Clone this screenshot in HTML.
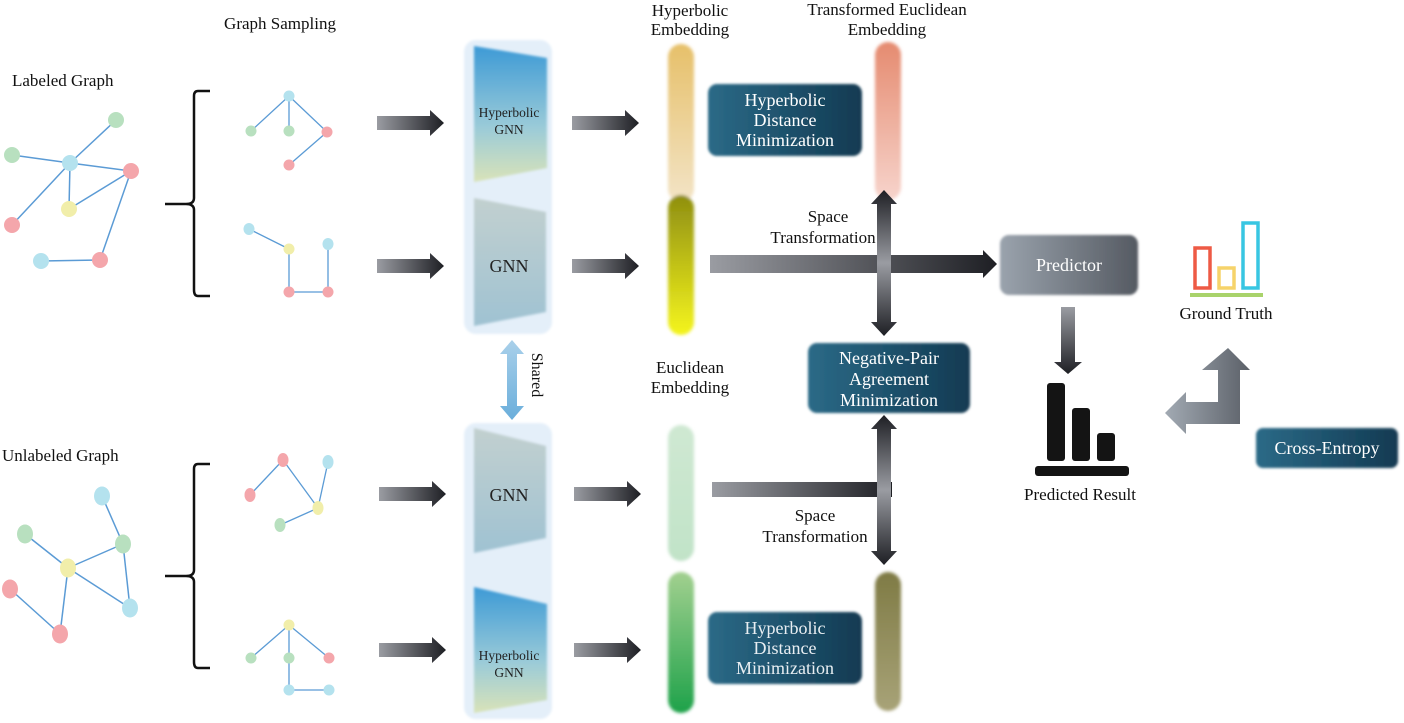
<!DOCTYPE html>
<html><head><meta charset="utf-8"><style>
html,body{margin:0;padding:0;background:#fff}
svg{display:block;font-family:"Liberation Serif",serif}
</style></head><body>
<svg width="1404" height="723" viewBox="0 0 1404 723" xmlns="http://www.w3.org/2000/svg">
<defs>
<linearGradient id="ar" x1="0" x2="1" y1="0" y2="0"><stop offset="0" stop-color="#9a9ca2"/><stop offset="1" stop-color="#1e1f24"/></linearGradient>
<linearGradient id="arv" x1="0" x2="0" y1="0" y2="1"><stop offset="0" stop-color="#1e1f24"/><stop offset="0.5" stop-color="#9a9ca2"/><stop offset="1" stop-color="#1e1f24"/></linearGradient>
<linearGradient id="ard" x1="0" x2="0" y1="0" y2="1"><stop offset="0" stop-color="#9a9ca2"/><stop offset="1" stop-color="#1e1f24"/></linearGradient>
<linearGradient id="hyp" x1="0" x2="0" y1="0" y2="1"><stop offset="0" stop-color="#3d9ad6"/><stop offset="0.6" stop-color="#9bcbd8"/><stop offset="1" stop-color="#d9e3b8"/></linearGradient>
<linearGradient id="gnn" x1="0" x2="0" y1="0" y2="1"><stop offset="0" stop-color="#c2d0cf"/><stop offset="1" stop-color="#9fc2d2"/></linearGradient>
<linearGradient id="box" x1="0" x2="1"><stop offset="0" stop-color="#2b6a87"/><stop offset="1" stop-color="#123a52"/></linearGradient>
<linearGradient id="pred" x1="0" x2="1"><stop offset="0" stop-color="#9aa3ad"/><stop offset="1" stop-color="#555a62"/></linearGradient>
<linearGradient id="lar" x1="0" x2="1"><stop offset="0" stop-color="#a2aab3"/><stop offset="1" stop-color="#5b6068"/></linearGradient>
<linearGradient id="p1" x1="0" x2="0" y1="0" y2="1"><stop offset="0" stop-color="#e6c06a"/><stop offset="1" stop-color="#f3e4c6"/></linearGradient>
<linearGradient id="p2" x1="0" x2="0" y1="0" y2="1"><stop offset="0" stop-color="#8f8f10"/><stop offset="1" stop-color="#f5f51e"/></linearGradient>
<linearGradient id="p3" x1="0" x2="0" y1="0" y2="1"><stop offset="0" stop-color="#cfe8d2"/><stop offset="1" stop-color="#c1e3c8"/></linearGradient>
<linearGradient id="p4" x1="0" x2="0" y1="0" y2="1"><stop offset="0" stop-color="#a2d08f"/><stop offset="1" stop-color="#1ea24a"/></linearGradient>
<linearGradient id="p5" x1="0" x2="0" y1="0" y2="1"><stop offset="0" stop-color="#e58b70"/><stop offset="1" stop-color="#f7d4cc"/></linearGradient>
<linearGradient id="p6" x1="0" x2="0" y1="0" y2="1"><stop offset="0" stop-color="#7f7b45"/><stop offset="1" stop-color="#a8a378"/></linearGradient>
<linearGradient id="sh" x1="0" x2="0" y1="0" y2="1"><stop offset="0" stop-color="#a9d0ea"/><stop offset="1" stop-color="#6aaedb"/></linearGradient>
<filter id="bl" x="-50%" y="-10%" width="200%" height="120%"><feGaussianBlur stdDeviation="1.6"/></filter>
<filter id="bl2" x="-10%" y="-10%" width="120%" height="120%"><feGaussianBlur stdDeviation="1.2"/></filter>
</defs>

<!-- titles -->
<g font-size="17" fill="#111">
<text x="280" y="29" text-anchor="middle">Graph Sampling</text>
<text x="12" y="86">Labeled Graph</text>
<text x="2" y="461">Unlabeled Graph</text>
<text x="690" y="16" text-anchor="middle">Hyperbolic</text>
<text x="690" y="35" text-anchor="middle">Embedding</text>
<text x="887" y="15" text-anchor="middle">Transformed Euclidean</text>
<text x="887" y="35" text-anchor="middle">Embedding</text>
<text x="828" y="222" text-anchor="middle">Space</text>
<text x="823" y="243" text-anchor="middle">Transformation</text>
<text x="815" y="521" text-anchor="middle">Space</text>
<text x="815" y="542" text-anchor="middle">Transformation</text>
<text x="690" y="373" text-anchor="middle">Euclidean</text>
<text x="690" y="393" text-anchor="middle">Embedding</text>
<text x="1080" y="500" text-anchor="middle">Predicted Result</text>
<text x="1226" y="319" text-anchor="middle">Ground Truth</text>
</g>

<!-- Labeled graph -->
<g stroke="#5b9bd5" stroke-width="1.5">
<line x1="70" y1="163" x2="116" y2="120"/><line x1="70" y1="163" x2="12" y2="155"/><line x1="70" y1="163" x2="131" y2="171"/>
<line x1="70" y1="163" x2="69" y2="209"/><line x1="70" y1="163" x2="12" y2="225"/><line x1="69" y1="209" x2="131" y2="171"/>
<line x1="131" y1="171" x2="100" y2="260"/><line x1="41" y1="261" x2="100" y2="260"/>
</g>
<g>
<circle cx="116" cy="120" r="8" fill="#b8e0bf"/><circle cx="12" cy="155" r="8" fill="#b8e0bf"/>
<circle cx="70" cy="163" r="8" fill="#b4e2ee"/><circle cx="131" cy="171" r="8" fill="#f4a6ab"/>
<circle cx="69" cy="209" r="8" fill="#f1eeaa"/><circle cx="12" cy="225" r="8" fill="#f4a6ab"/>
<circle cx="41" cy="261" r="8" fill="#b4e2ee"/><circle cx="100" cy="260" r="8" fill="#f4a6ab"/>
</g>
<!-- Unlabeled graph -->
<g stroke="#5b9bd5" stroke-width="1.5">
<line x1="102" y1="496" x2="123" y2="544"/><line x1="25" y1="534" x2="68" y2="568"/><line x1="68" y1="568" x2="123" y2="544"/>
<line x1="123" y1="544" x2="130" y2="608"/><line x1="68" y1="568" x2="130" y2="608"/><line x1="68" y1="568" x2="60" y2="634"/>
<line x1="10" y1="589" x2="60" y2="634"/>
</g>
<g>
<ellipse cx="102" cy="496" rx="8" ry="9.5" fill="#b4e2ee"/><ellipse cx="25" cy="534" rx="8" ry="9.5" fill="#b8e0bf"/>
<ellipse cx="123" cy="544" rx="8" ry="9.5" fill="#b8e0bf"/><ellipse cx="68" cy="568" rx="8" ry="9.5" fill="#f1eeaa"/>
<ellipse cx="10" cy="589" rx="8" ry="9.5" fill="#f4a6ab"/><ellipse cx="130" cy="608" rx="8" ry="9.5" fill="#b4e2ee"/>
<ellipse cx="60" cy="634" rx="8" ry="9.5" fill="#f4a6ab"/>
</g>

<!-- braces -->
<g fill="none" stroke="#111" stroke-width="2.5">
<path d="M210 91 L198 91 Q194 91 194 96 L194 198 Q194 204 186 204 L165 204 M186 204 Q194 204 194 210 L194 290 Q194 296 198 296 L210 296"/>
<path d="M210 464 L198 464 Q194 464 194 469 L194 570 Q194 576 186 576 L165 576 M186 576 Q194 576 194 582 L194 662 Q194 668 198 668 L210 668"/>
</g>

<!-- subgraphs -->
<g stroke="#5b9bd5" stroke-width="1.3">
<line x1="289" y1="96" x2="251" y2="131"/><line x1="289" y1="96" x2="289" y2="131"/><line x1="289" y1="96" x2="327" y2="132"/><line x1="327" y1="132" x2="289" y2="165"/>
<line x1="249" y1="229" x2="289" y2="249"/><line x1="289" y1="249" x2="289" y2="292"/><line x1="289" y1="292" x2="328" y2="292"/><line x1="328" y1="292" x2="328" y2="244"/>
<line x1="283" y1="460" x2="250" y2="495"/><line x1="283" y1="460" x2="318" y2="508"/><line x1="328" y1="462" x2="318" y2="508"/><line x1="318" y1="508" x2="280" y2="525"/>
<line x1="289" y1="625" x2="251" y2="658"/><line x1="289" y1="625" x2="289" y2="690"/><line x1="289" y1="625" x2="329" y2="658"/><line x1="289" y1="690" x2="329" y2="690"/>
</g>
<g>
<circle cx="289" cy="96" r="5.5" fill="#b4e2ee"/><circle cx="251" cy="131" r="5.5" fill="#b8e0bf"/><circle cx="289" cy="131" r="5.5" fill="#b8e0bf"/><circle cx="327" cy="132" r="5.5" fill="#f4a6ab"/><circle cx="289" cy="165" r="5.5" fill="#f4a6ab"/>
<ellipse cx="249" cy="229" rx="5.5" ry="6" fill="#b4e2ee"/><circle cx="289" cy="249" r="5.5" fill="#f1eeaa"/><ellipse cx="328" cy="244" rx="5.5" ry="6" fill="#b4e2ee"/><circle cx="289" cy="292" r="5.5" fill="#f4a6ab"/><circle cx="328" cy="292" r="5.5" fill="#f4a6ab"/>
<ellipse cx="283" cy="460" rx="5.5" ry="7" fill="#f4a6ab"/><ellipse cx="328" cy="462" rx="5.5" ry="7" fill="#b4e2ee"/><ellipse cx="250" cy="495" rx="5.5" ry="7" fill="#f4a6ab"/><ellipse cx="318" cy="508" rx="5.5" ry="7" fill="#f1eeaa"/><ellipse cx="280" cy="525" rx="5.5" ry="7" fill="#b8e0bf"/>
<circle cx="289" cy="625" r="5.5" fill="#f1eeaa"/><circle cx="251" cy="658" r="5.5" fill="#b8e0bf"/><circle cx="289" cy="658" r="5.5" fill="#b8e0bf"/><circle cx="329" cy="658" r="5.5" fill="#f4a6ab"/><circle cx="289" cy="690" r="5.5" fill="#b4e2ee"/><circle cx="329" cy="690" r="5.5" fill="#b4e2ee"/>
</g>

<!-- small arrows -->
<g fill="url(#ar)">
<path d="M377 116 L430 116 L430 110 L444 123 L430 136 L430 130 L377 130 Z"/>
<path d="M377 259 L430 259 L430 253 L444 266 L430 279 L430 273 L377 273 Z"/>
<path d="M572 116 L625 116 L625 110 L639 123 L625 136 L625 130 L572 130 Z"/>
<path d="M572 259 L625 259 L625 253 L639 266 L625 279 L625 273 L572 273 Z"/>
<path d="M379 487 L432 487 L432 481 L446 494 L432 507 L432 501 L379 501 Z"/>
<path d="M379 643 L432 643 L432 637 L446 650 L432 663 L432 657 L379 657 Z"/>
<path d="M574 487 L627 487 L627 481 L641 494 L627 507 L627 501 L574 501 Z"/>
<path d="M574 643 L627 643 L627 637 L641 650 L627 663 L627 657 L574 657 Z"/>
</g>

<!-- encoder panels -->
<rect x="464" y="40" width="88" height="294" rx="12" fill="#e4eff9" filter="url(#bl2)"/>
<rect x="464" y="423" width="88" height="296" rx="12" fill="#e4eff9" filter="url(#bl2)"/>
<g filter="url(#bl2)">
<path d="M474 46 L547 58 L547 168 L474 182 Z" fill="url(#hyp)"/>
<path d="M474 198 L546 212 L546 312 L474 326 Z" fill="url(#gnn)"/>
<path d="M474 428 L546 446 L546 538 L474 553 Z" fill="url(#gnn)"/>
<path d="M474 587 L547 604 L547 700 L474 713 Z" fill="url(#hyp)"/>
</g>
<g fill="#222" text-anchor="middle">
<text x="509" y="117" font-size="13.5">Hyperbolic</text><text x="509" y="134" font-size="13.5">GNN</text>
<text x="509" y="272" font-size="18">GNN</text>
<text x="509" y="501" font-size="18">GNN</text>
<text x="509" y="660" font-size="13.5">Hyperbolic</text><text x="509" y="677" font-size="13.5">GNN</text>
</g>
<!-- shared -->
<path d="M512 340 L524 354 L517 354 L517 406 L524 406 L512 420 L500 406 L507 406 L507 354 L500 354 Z" fill="url(#sh)"/>
<text x="532" y="375" font-size="16" fill="#111" text-anchor="middle" transform="rotate(90 532 375)">Shared</text>

<!-- pills -->
<g filter="url(#bl)">
<rect x="668" y="44" width="26" height="158" rx="13" fill="url(#p1)"/>
<rect x="668" y="195" width="26" height="140" rx="13" fill="url(#p2)"/>
<rect x="668" y="425" width="26" height="136" rx="13" fill="url(#p3)"/>
<rect x="668" y="572" width="26" height="141" rx="13" fill="url(#p4)"/>
<rect x="875" y="42" width="26" height="158" rx="13" fill="url(#p5)"/>
<rect x="875" y="572" width="26" height="139" rx="13" fill="url(#p6)"/>
</g>

<!-- boxes -->
<g filter="url(#bl2)">
<rect x="708" y="84" width="154" height="72" rx="9" fill="url(#box)"/>
<rect x="708" y="612" width="154" height="72" rx="9" fill="url(#box)"/>
<rect x="808" y="343" width="162" height="70" rx="9" fill="url(#box)"/>
<rect x="1256" y="428" width="142" height="40" rx="7" fill="url(#box)"/>
<rect x="1000" y="235" width="138" height="60" rx="9" fill="url(#pred)"/>
</g>
<g fill="#fff" text-anchor="middle" font-size="18">
<text x="785" y="106">Hyperbolic</text><text x="785" y="126">Distance</text><text x="785" y="146">Minimization</text>
<text x="785" y="634" fill="#e8eef2">Hyperbolic</text><text x="785" y="654" fill="#e8eef2">Distance</text><text x="785" y="674" fill="#e8eef2">Minimization</text>
<text x="889" y="364">Negative-Pair</text><text x="889" y="385">Agreement</text><text x="889" y="406">Minimization</text>
<text x="1327" y="454">Cross-Entropy</text>
<text x="1069" y="271">Predictor</text>
</g>

<!-- big arrows -->
<path d="M710 255 L983 255 L983 250 L997 264 L983 278 L983 273 L710 273 Z" fill="url(#ar)"/>
<path d="M884 190 L897 204 L891 204 L891 322 L897 322 L884 336 L871 322 L877 322 L877 204 L871 204 Z" fill="url(#arv)"/>
<path d="M712 482 L892 482 L892 497 L712 497 Z" fill="url(#ar)"/>
<path d="M884 415 L897 429 L891 429 L891 551 L897 551 L884 565 L871 551 L877 551 L877 429 L871 429 Z" fill="url(#arv)"/>
<path d="M1061 307 L1075 307 L1075 362 L1082 362 L1068 374 L1054 362 L1061 362 Z" fill="url(#ard)"/>

<!-- predicted bars -->
<g fill="#141414">
<rect x="1047" y="383" width="18" height="78" rx="3"/>
<rect x="1072" y="408" width="18" height="53" rx="3"/>
<rect x="1097" y="433" width="18" height="28" rx="3"/>
<rect x="1035" y="466" width="94" height="10" rx="3"/>
</g>
<!-- ground truth -->
<g fill="none" stroke-width="3.5">
<rect x="1195" y="248" width="15" height="40" stroke="#ee5a45"/>
<rect x="1219" y="268" width="15" height="20" stroke="#f6d36a"/>
<rect x="1243" y="223" width="15" height="65" stroke="#38c6e2"/>
</g>
<rect x="1190" y="293" width="73" height="4" fill="#a9d36b"/>
<!-- L arrow -->
<path d="M1165 413 L1186 392 L1186 402 L1218 402 L1218 370 L1202 370 L1228 348 L1250 370 L1240 370 L1240 424 L1186 424 L1186 434 Z" fill="url(#lar)"/>
</svg>
</body></html>
